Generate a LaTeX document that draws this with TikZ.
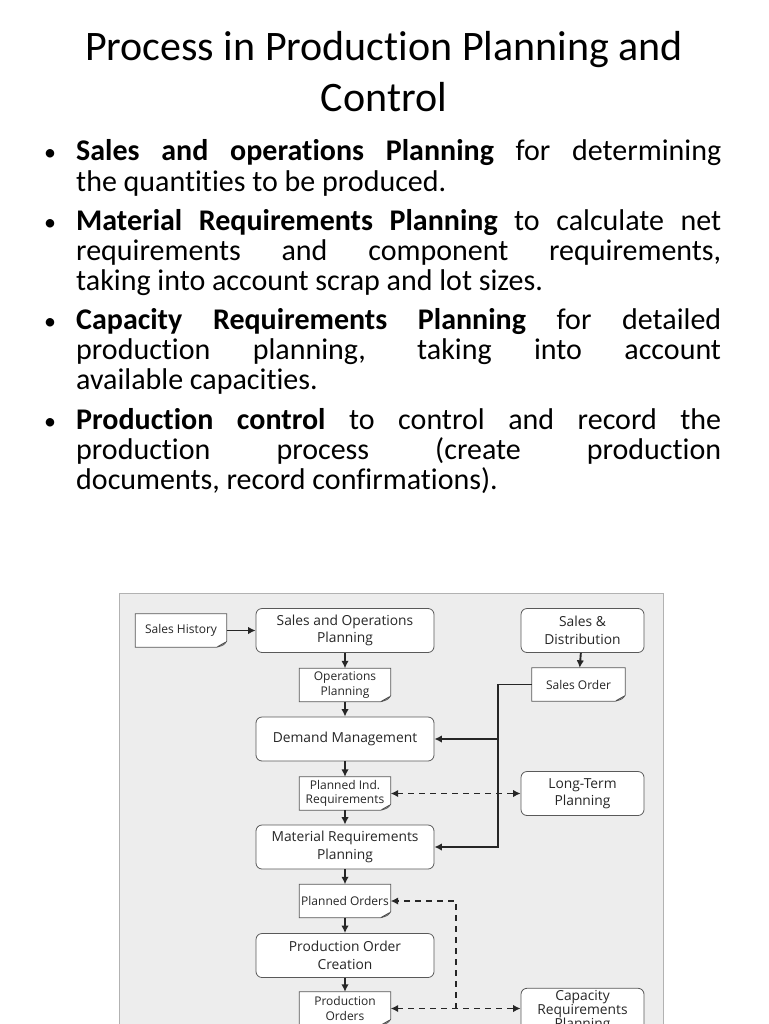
\documentclass[tikz,border=0pt]{standalone}
\usepackage{fontspec}
\setmainfont{Carlito}[Ligatures=NoCommon]
\newfontfamily\diagfont{Open Sans}
\usetikzlibrary{arrows.meta,backgrounds}
\begin{document}
\begin{tikzpicture}[x=1pt,y=-1pt,
  rbox/.style={draw=black!65, line width=0.8pt, fill=white, rounded corners=6pt, minimum height=44pt, align=center, inner sep=2pt, text=black!85, font=\diagfont\fontsize{13.8}{17.5}\selectfont},
  wide/.style={rbox, minimum width=178pt},
  narrow/.style={rbox, minimum width=123pt},
  doc/.style={minimum width=91pt, minimum height=33pt, align=center, inner sep=1pt, text=black!85, font=\diagfont\fontsize{12}{14.5}\selectfont},
  docline/.style={draw=black!65, line width=0.8pt, fill=white},
  conn/.style={draw=black!85, line width=1.9pt, -{Latex[length=7.5pt,width=7.5pt]}},
  dconn/.style={draw=black!85, line width=1.9pt, dash pattern=on 6pt off 5pt, {Latex[length=7.5pt,width=7.5pt]}-{Latex[length=7.5pt,width=7.5pt]}},
  para/.style={anchor=base west, text width=645pt, align=justify, inner sep=0pt, font=\fontsize{30}{30.4}\selectfont},
  bul/.style={anchor=base, inner sep=0pt, font=\fontsize{24}{30}\selectfont},
  ttl/.style={anchor=base, inner sep=0pt, font=\fontsize{42}{51}\selectfont},
]
\useasboundingbox (0,0) rectangle (768,1024);
\begin{scope}[on background layer]
  \fill[white] (0,0) rectangle (768,1024);
  \path[fill=black!7, draw=black!30, line width=1pt] (119,593) rectangle (663,1040);
\end{scope}

% title
\node[ttl] (t1) at (384,60.5) {Process in Production Planning and};
\node[ttl] (t2) at (384,111.5) {Control};

% bullets
\node[bul] (b1) at (50,161) {•};
\node[para] (p1) at (76,161) {\textbf{Sales and operations Planning} for determining\linebreak the quantities to be produced.};
\node[bul] (b2) at (50,230) {•};
\node[para] (p2) at (76,230) {\textbf{Material Requirements Planning} to calculate net\linebreak requirements and component requirements,\linebreak taking into account scrap and lot sizes.};
\node[bul] (b3) at (50,329) {•};
\node[para] (p3) at (76,329) {\textbf{Capacity Requirements Planning} for detailed\linebreak production planning, taking into account\linebreak available capacities.};
\node[bul] (b4) at (50,429) {•};
\node[para] (p4) at (76,429) {\textbf{Production control} to control and record the\linebreak production process (create production\linebreak documents, record confirmations).};

% diagram nodes
\node[doc] (sh) at (181,630.5) {Sales History};
\node[wide] (sop) at (345,630.5) {Sales and Operations\\Planning};
\node[doc] (op) at (345,685) {Operations\\Planning};
\node[wide] (dm) at (345,739) {Demand Management};
\node[doc] (pir) at (345,793.5) {Planned Ind.\\Requirements};
\node[wide] (mrp) at (345,847) {Material Requirements\\Planning};
\node[doc] (po) at (345,901) {Planned Orders};
\node[wide] (poc) at (345,955.5) {Production Order\\Creation};
\node[doc] (pro) at (345,1008.5) {Production\\Orders};
\node[narrow] (sd) at (582.5,630.5) {Sales \&\\Distribution};
\node[doc, minimum width=93pt] (so) at (578.5,684.5) {Sales Order};
\node[narrow] (ltp) at (582.5,793.5) {Long-Term\\Planning};
\node[narrow, font=\diagfont\fontsize{13.8}{14}\selectfont] (crp) at (582.5,1011) {Capacity\\Requirements\\Planning};

% document outlines
\begin{scope}[on background layer]
\foreach \n in {sh,op,pir,po,pro,so}{
  \path[docline] (\n.north west) -- (\n.north east) -- ([yshift=6pt]\n.south east)
     .. controls ([xshift=-3pt,yshift=2pt]\n.south east) .. ([xshift=-10pt]\n.south east)
     -- (\n.south west) -- cycle;
  \draw[black!70, line width=1pt] ([xshift=-9pt,yshift=0.5pt]\n.south east) -- ([xshift=-1pt,yshift=5pt]\n.south east);
}
\end{scope}

% connectors
\draw[conn] (sh.east) -- (sh.east -| sop.west);
\draw[conn] (sop) -- (op);
\draw[conn] (op) -- (dm);
\draw[conn] (dm) -- (pir);
\draw[conn] (pir) -- (mrp);
\draw[conn] (mrp) -- (po);
\draw[conn] (po) -- (poc);
\draw[conn] (poc) -- (pro);
\draw[conn] (sd) -- (so);
\coordinate (jx) at (498,0);
\draw[conn] (so.west) -| (jx |- mrp.east) -- (mrp.east);
\draw[conn] (jx |- dm.east) -- (dm.east);
\draw[dconn] (pir.east) -- (pir.east -| ltp.west);
\coordinate (dx) at (456,0);
\draw[dconn] (pro.east) -- (pro.east -| crp.west);
\draw[draw=black!85, line width=1.9pt, dash pattern=on 6pt off 5pt, -{Latex[length=7.5pt,width=7.5pt]}] (dx |- pro.east) |- (po.east);
\end{tikzpicture}
\end{document}
